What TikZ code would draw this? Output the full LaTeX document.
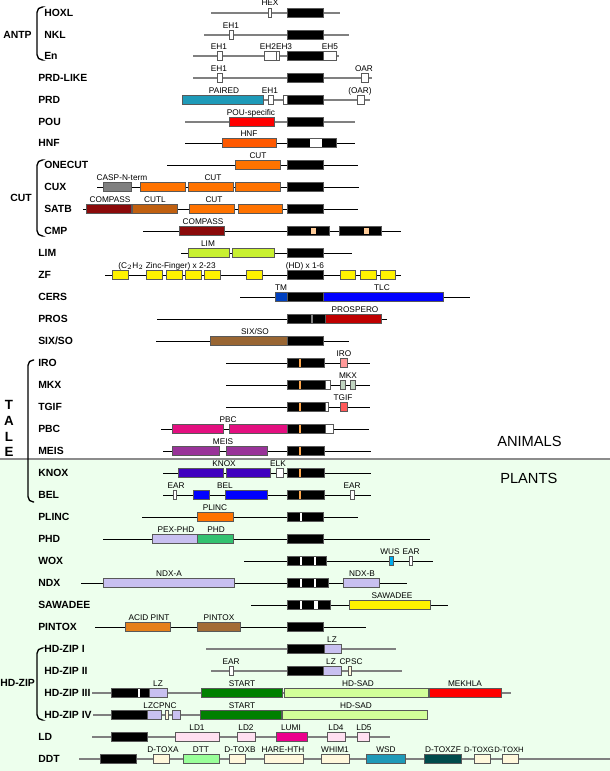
\documentclass[tikz,border=0pt]{standalone}
\usepackage{fontspec}
\setmainfont{Liberation Sans}
\begin{document}
\begin{tikzpicture}[x=0.75pt,y=-0.75pt,
  dombox/.style={draw=black!65,line width=0.4pt},
  lab/.style={font=\fontsize{6.2}{7}\selectfont,inner sep=0pt,anchor=base},
  rowlab/.style={font=\fontsize{7.8}{9}\selectfont\bfseries,inner sep=0pt,anchor=west},
  gl/.style={draw=black!50,line width=0.8pt},
  bl/.style={draw=black,line width=0.6pt},
  brace/.style={draw=black,line width=1pt,rounded corners=4pt}]
\useasboundingbox (0,0) rectangle (610,771);
\fill[green!7!white] (0,459) rectangle (610,771);
\draw[black!45,line width=1.5pt] (0,459) -- (610,459);
\newcommand\dom[4]{\draw[dombox,fill=#4] (#1,#3-4.5) rectangle (#2,#3+4.5);}
\newcommand\hd[3]{\draw[dombox,fill=black] (#1,#3-4.5) rectangle (#2,#3+4.5);}
\newcommand\tk[3]{\fill[#3] (#1-0.8,#2-4) rectangle (#1+0.8,#2+4);}
\newcommand\lb[3]{\node[lab] at (#1,#2-7) {#3};}
\newcommand\gline[3]{\draw[gl] (#1,#3) -- (#2,#3);}
\newcommand\bline[3]{\draw[bl] (#1,#3) -- (#2,#3);}
\newcommand\rl[3]{\node[rowlab] at (#1,#2) {#3};}
\colorlet{orng}{orange!90!red}
\definecolor{teal1}{HTML}{1E9AB8}
\definecolor{dred}{HTML}{8B0A0A}
\definecolor{brwn}{HTML}{C06010}
\definecolor{lime1}{HTML}{C8F030}
\definecolor{lav}{HTML}{C8C0F0}
\definecolor{cream}{HTML}{FFF8DC}
\definecolor{pinkl}{HTML}{FFE0F0}
% brackets
\draw[brace] (42,7) -- (37,7) -- (37,60) -- (42,60);
\draw[brace] (42,160) -- (37,160) -- (37,236) -- (42,236);
\draw[brace] (34,360) -- (28,360) -- (28,502) -- (34,502);
\draw[brace] (42,648) -- (37,648) -- (37,720) -- (42,720);
\rl{3}{35}{ANTP}
\rl{10}{198}{CUT}
\rl{0}{683}{HD-ZIP}
\foreach \c/\yy in {T/405,A/421,L/437,E/452}{\node[font=\fontsize{10}{10}\selectfont\bfseries,inner sep=0pt] at (9,\yy) {\c};}
\node[font=\fontsize{11}{12}\selectfont,anchor=west,inner sep=0pt] at (497,441) {ANIMALS};
\node[font=\fontsize{11}{12}\selectfont,anchor=west,inner sep=0pt] at (500,478) {PLANTS};
% rows
\rl{44}{13}{HOXL} \gline{211}{340}{13} \dom{268}{271}{13}{white}\lb{270}{13}{HEX} \hd{287}{323}{13}
\rl{44}{35}{NKL} \gline{204}{349}{35} \dom{229}{233}{35}{white}\lb{231}{35}{EH1} \hd{287}{323}{35}
\rl{44}{56}{En} \gline{193}{339}{56} \dom{217}{222}{56}{white}\lb{219}{56}{EH1} \dom{264}{276}{56}{white}\dom{276}{279}{56}{white}\lb{276}{56}{EH2EH3} \hd{287}{323}{56}\dom{323}{336}{56}{white}\lb{330}{56}{EH5}
\rl{38}{78}{PRD-LIKE} \gline{193}{372}{78} \dom{217}{222}{78}{white}\lb{219}{78}{EH1} \hd{287}{323}{78} \dom{361}{368}{78}{white}\lb{364}{78}{OAR}
\rl{38}{100}{PRD} \gline{182}{370}{100} \dom{182}{263}{100}{teal1}\lb{224}{100}{PAIRED} \dom{268}{273}{100}{white}\lb{270}{100}{EH1} \dom{283}{287}{100}{white}\hd{287}{323}{100} \dom{357}{364}{100}{white}\lb{360}{100}{(OAR)}
\rl{38}{122}{POU} \gline{185}{355}{122} \dom{229}{274}{122}{red}\lb{251}{122}{POU-specific} \hd{287}{323}{122}
\rl{38}{143}{HNF} \bline{185}{355}{143} \dom{222}{276}{143}{orange!70!red}\lb{249}{143}{HNF} \hd{287}{336}{143}\fill[white](310,139)rectangle(322,147);
\rl{44}{165}{ONECUT} \bline{167}{358}{165} \dom{235}{280}{165}{orng}\lb{258}{165}{CUT} \hd{287}{323}{165}
\rl{44}{187}{CUX} \bline{97}{359}{187} \dom{103}{131}{187}{gray}\lb{122}{187}{CASP-N-term} \dom{140}{185}{187}{orng}\dom{188}{233}{187}{orng}\dom{235}{280}{187}{orng}\lb{213}{187}{CUT} \hd{287}{323}{187}
\rl{44}{209}{SATB} \bline{83}{358}{209} \dom{86}{131}{209}{dred}\lb{110}{209}{COMPASS} \dom{132}{177}{209}{brwn}\lb{155}{209}{CUTL} \dom{189}{234}{209}{orng}\dom{238}{282}{209}{orng}\lb{214}{209}{CUT} \hd{287}{323}{209}
\rl{44}{231}{CMP} \bline{143}{401}{231} \dom{179}{224}{231}{dred}\lb{203}{231}{COMPASS} \hd{287}{329}{231}\fill[orange!40](311,228)rectangle(316,234); \hd{339}{381}{231}\fill[orange!40](364,228)rectangle(369,234);
\rl{38}{253}{LIM} \bline{181}{352}{253} \dom{188}{229}{253}{lime1}\dom{232}{274}{253}{lime1}\lb{208}{253}{LIM} \hd{287}{323}{253}
\rl{38}{275}{ZF} \bline{105}{401}{275} \foreach \a/\b in {112/128,146/162,166/182,185/201,204/220,246/262,340/355,360/376,380/395}{\dom{\a}{\b}{275}{yellow}} \node[lab] at (167,268) {(C$_2$H$_2$ Zinc-Finger) x 2-23}; \hd{287}{323}{275}\lb{305}{275}{(HD) x 1-6}
\rl{38}{297}{CERS} \bline{240}{470}{297} \dom{275}{287}{297}{blue!50!teal}\lb{281}{297}{TM} \hd{287}{323}{297} \dom{323}{443}{297}{blue}\lb{382}{297}{TLC}
\rl{38}{319}{PROS} \bline{157}{387}{319} \hd{287}{325}{319}\tk{312}{319}{gray} \dom{325}{381}{319}{red!75!black}\lb{355}{319}{PROSPERO}
\rl{38}{341}{SIX/SO} \bline{156}{349}{341} \dom{210}{287}{341}{brown!80!black}\lb{255}{341}{SIX/SO} \hd{287}{323}{341}
\rl{38}{363}{IRO} \bline{226}{370}{363} \hd{287}{324}{363}\tk{300}{363}{orange!70} \dom{340}{347}{363}{red!40}\lb{344}{363}{IRO}
\rl{38}{385}{MKX} \bline{226}{370}{385} \hd{287}{325}{385}\tk{300}{385}{orange!70} \dom{325}{330}{385}{white}\dom{340}{345}{385}{green!20!gray!40}\dom{350}{355}{385}{green!20!gray!40}\lb{348}{385}{MKX}
\rl{38}{407}{TGIF} \bline{226}{370}{407} \hd{287}{325}{407}\tk{300}{407}{orange!70} \dom{325}{328}{407}{white}\dom{340}{347}{407}{red!65}\lb{343}{407}{TGIF}
\rl{38}{429}{PBC} \bline{161}{369}{429} \dom{172}{223}{429}{magenta!80!purple}\dom{229}{287}{429}{magenta!80!purple}\lb{228}{429}{PBC} \hd{287}{325}{429}\tk{300}{429}{orange!70} \dom{325}{333}{429}{white}
\rl{38}{451}{MEIS} \bline{163}{371}{451} \dom{172}{219}{451}{violet!80}\dom{226}{267}{451}{violet!80}\lb{223}{451}{MEIS} \hd{287}{324}{451}\tk{300}{451}{orange!70}
\rl{38}{473}{KNOX} \bline{163}{371}{473} \dom{178}{223}{473}{blue!50!violet}\dom{226}{270}{473}{blue!50!violet}\lb{224}{473}{KNOX} \dom{276}{283}{473}{white}\lb{278}{473}{ELK} \hd{287}{324}{473}\tk{300}{473}{orange!70}
\rl{38}{495}{BEL} \bline{163}{371}{495} \dom{173}{176}{495}{white}\lb{176}{495}{EAR} \dom{193}{209}{495}{blue}\dom{225}{267}{495}{blue}\lb{225}{495}{BEL} \hd{287}{324}{495}\tk{300}{495}{orange!70} \dom{350}{354}{495}{white}\lb{352}{495}{EAR}
\rl{38}{517}{PLINC} \bline{142}{358}{517} \dom{197}{233}{517}{orange!90!red}\lb{215}{517}{PLINC} \hd{287}{323}{517}\tk{301}{517}{white}
\rl{38}{539}{PHD} \bline{103}{430}{539} \dom{152}{197}{539}{lav}\lb{176}{539}{PEX-PHD} \dom{197}{233}{539}{teal!60!green!80}\lb{216}{539}{PHD} \hd{287}{323}{539}
\rl{38}{561}{WOX} \bline{244}{433}{561} \hd{287}{326}{561}\tk{301}{561}{white}\tk{315}{561}{white} \dom{389}{393}{561}{cyan}\lb{390}{561}{WUS} \dom{409}{412}{561}{white}\lb{411}{561}{EAR}
\rl{38}{583}{NDX} \bline{81}{407}{583} \dom{103}{234}{583}{lav}\lb{169}{583}{NDX-A} \hd{287}{328}{583}\tk{301}{583}{white}\tk{315}{583}{white} \dom{343}{379}{583}{lav}\lb{362}{583}{NDX-B}
\rl{38}{605}{SAWADEE} \bline{251}{448}{605} \hd{287}{330}{605}\tk{301}{605}{white}\fill[white](314,601)rectangle(318,609); \dom{349}{430}{605}{yellow}\lb{392}{605}{SAWADEE}
\rl{38}{627}{PINTOX} \bline{95}{366}{627} \dom{125}{170}{627}{orange!60!brown}\lb{149}{627}{ACID PINT} \dom{197}{240}{627}{brown!85!black}\lb{219}{627}{PINTOX} \hd{287}{323}{627}
\rl{44}{649}{HD-ZIP I} \gline{206}{396}{649} \hd{287}{324}{649}\dom{324}{341}{649}{lav}\lb{332}{649}{LZ}
\rl{44}{671}{HD-ZIP II} \gline{211}{402}{671} \dom{229}{233}{671}{white}\lb{231}{671}{EAR} \hd{287}{323}{671}\dom{323}{341}{671}{lav}\lb{331}{671}{LZ} \dom{348}{351}{671}{cream}\lb{351}{671}{CPSC}
\rl{44}{693}{HD-ZIP III} \gline{92}{511}{693} \hd{111}{149}{693}\tk{139}{693}{white} \dom{149}{167}{693}{lav}\lb{158}{693}{LZ} \dom{201}{282}{693}{green!50!black}\lb{242}{693}{START} \dom{284}{428}{693}{green!25!lime!40}\lb{358}{693}{HD-SAD} \dom{429}{501}{693}{red}\lb{465}{693}{MEKHLA}
\rl{44}{715}{HD-ZIP IV} \gline{93}{427}{715} \hd{111}{147}{715}\dom{147}{161}{715}{lav}\dom{165}{168}{715}{cream}\dom{172}{180}{715}{lav}\lb{160}{715}{LZCPNC} \dom{200}{281}{715}{green!50!black}\lb{242}{715}{START} \dom{282}{427}{715}{green!25!lime!40}\lb{356}{715}{HD-SAD}
\rl{38}{737}{LD} \gline{92}{390}{737} \hd{111}{147}{737} \dom{175}{219}{737}{pinkl}\lb{197}{737}{LD1} \dom{237}{255}{737}{pinkl}\lb{246}{737}{LD2} \dom{276}{307}{737}{magenta}\lb{291}{737}{LUMI} \dom{327}{345}{737}{pinkl}\lb{336}{737}{LD4} \dom{357}{369}{737}{pinkl}\lb{364}{737}{LD5}
\rl{38}{759}{DDT} \gline{79}{610}{759} \hd{100}{136}{759} \dom{153}{169}{759}{cream}\lb{163}{759}{D-TOXA} \dom{183}{219}{759}{green!40}\lb{201}{759}{DTT} \dom{229}{245}{759}{cream}\lb{240}{759}{D-TOXB} \dom{264}{303}{759}{cream}\lb{283}{759}{HARE-HTH} \dom{321}{349}{759}{cream}\lb{335}{759}{WHIM1} \dom{366}{405}{759}{teal1}\lb{386}{759}{WSD} \dom{424}{461}{759}{teal!60!black}\lb{443}{759}{D-TOXZF} \dom{474}{490}{759}{cream}\lb{479}{759}{\fontsize{5.8}{6}\selectfont D-TOXG} \dom{502}{518}{759}{cream}\lb{509}{759}{\fontsize{5.8}{6}\selectfont D-TOXH}
\end{tikzpicture}
\end{document}
